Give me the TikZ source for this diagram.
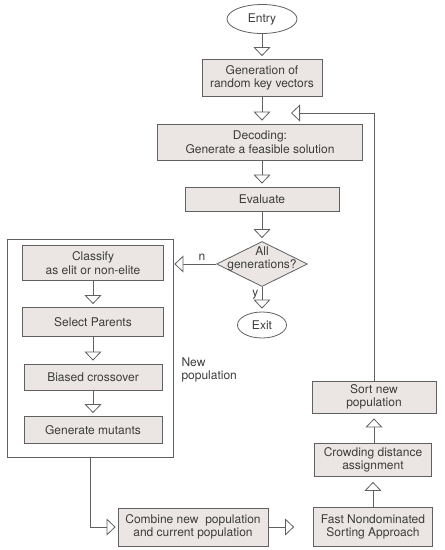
\documentclass[tikz,border=0pt]{standalone}
\usepackage{fontspec}
\setmainfont{TeX Gyre Heros}
\usetikzlibrary{arrows.meta,shapes.geometric}
\definecolor{boxfill}{RGB}{235,230,228}
\definecolor{linegray}{RGB}{96,96,96}
\definecolor{textgray}{RGB}{60,60,60}

\begin{document}
\begin{tikzpicture}[x=1pt,y=-1pt,
	every node/.style={font=\fontsize{12}{13.5}\selectfont, text=textgray},
	blok/.style={draw=linegray, fill=boxfill, line width=0.8pt, align=center, inner sep=0pt},
	term/.style={draw=linegray, fill=white, ellipse, line width=0.8pt, inner sep=0pt},
	dia/.style={draw=linegray, fill=boxfill, diamond, line width=0.8pt, inner sep=0pt, minimum width=91pt, minimum height=45pt},
	pile/.style={draw=linegray, line width=0.8pt, -{Triangle[open, width=17pt, length=9pt, fill=white]}, shorten >=3pt}]

	\useasboundingbox (0,0) rectangle (445,550);

	% Main column
	\node[term, minimum width=70pt, minimum height=29pt] (entry) at (262,19) {Entry};
	\node[blok, minimum width=120pt, minimum height=37pt] (gen) at (262,78) {Generation of\\random key vectors};
	\node[blok, minimum width=205pt, minimum height=36pt] (dec) at (260,142) {Decoding:\\Generate a feasible solution};
	\node[blok, minimum width=154pt, minimum height=24pt] (eval) at (262,199) {Evaluate};
	\node[dia] (all) at (262,264) {};
	\node[align=center] (alltxt) at (262,259) {All\\generations?};
	\node[term, minimum width=49pt, minimum height=26pt] (exit) at (262,325) {Exit};

	\draw[pile] (entry) -- (entry |- gen.north);
	\draw[pile] (gen) -- (gen |- dec.north);
	\draw[pile] (dec.south -| eval) -- (eval);
	\draw[pile] (eval) -- (all);
	\draw[pile] (all) -- node[left, pos=0.3] {y} (exit);

	% New population
	\node[draw=linegray, line width=0.8pt, minimum width=166pt, minimum height=218pt, inner sep=0pt] (newpop) at (90,348) {};
	\node[blok, minimum width=141pt, minimum height=35pt] (classify) at (93,263) {Classify\\as elit or non-elite};
	\node[blok, minimum width=141pt, minimum height=29pt] (parents) at (93,322) {Select Parents};
	\node[blok, minimum width=138pt, minimum height=26pt] (cross) at (93,377) {Biased crossover};
	\node[blok, minimum width=138pt, minimum height=27pt] (mutants) at (93,430) {Generate mutants};
	\node[anchor=west, align=left] (newlbl) at (178,370) {New\\population};

	\draw[pile] (classify) -- (parents);
	\draw[pile] (parents) -- (cross);
	\draw[pile] (cross) -- (mutants);
	\draw[pile, shorten >=1pt] (all.west) -- node[above, pos=0.33] {n} (all.west -| newpop.east);

	% Bottom and right side
	\node[blok, minimum width=150pt, minimum height=38pt] (comb) at (193,527) {Combine new~ population\\and current population};
	\node[blok, minimum width=119pt, minimum height=39pt] (fast) at (373,527) {Fast Nondominated\\Sorting Approach};
	\node[blok, minimum width=117pt, minimum height=33pt] (crowd) at (373,460) {Crowding distance\\assignment};
	\node[blok, minimum width=124pt, minimum height=32pt] (sort) at (374,397) {Sort new\\population};
	\coordinate (back) at (291,113);

	\draw[pile, shorten >=2pt] (newpop.south) |- (comb.west);
	\draw[pile, shorten >=19pt] (comb) -- (fast);
	\draw[pile, shorten >=5pt] (fast.north -| crowd) -- (crowd);
	\draw[pile, shorten >=5pt] (crowd.north -| sort) -- (sort);
	\draw[pile, shorten >=0pt] (sort.north) |- (back);

\end{tikzpicture}
\end{document}
